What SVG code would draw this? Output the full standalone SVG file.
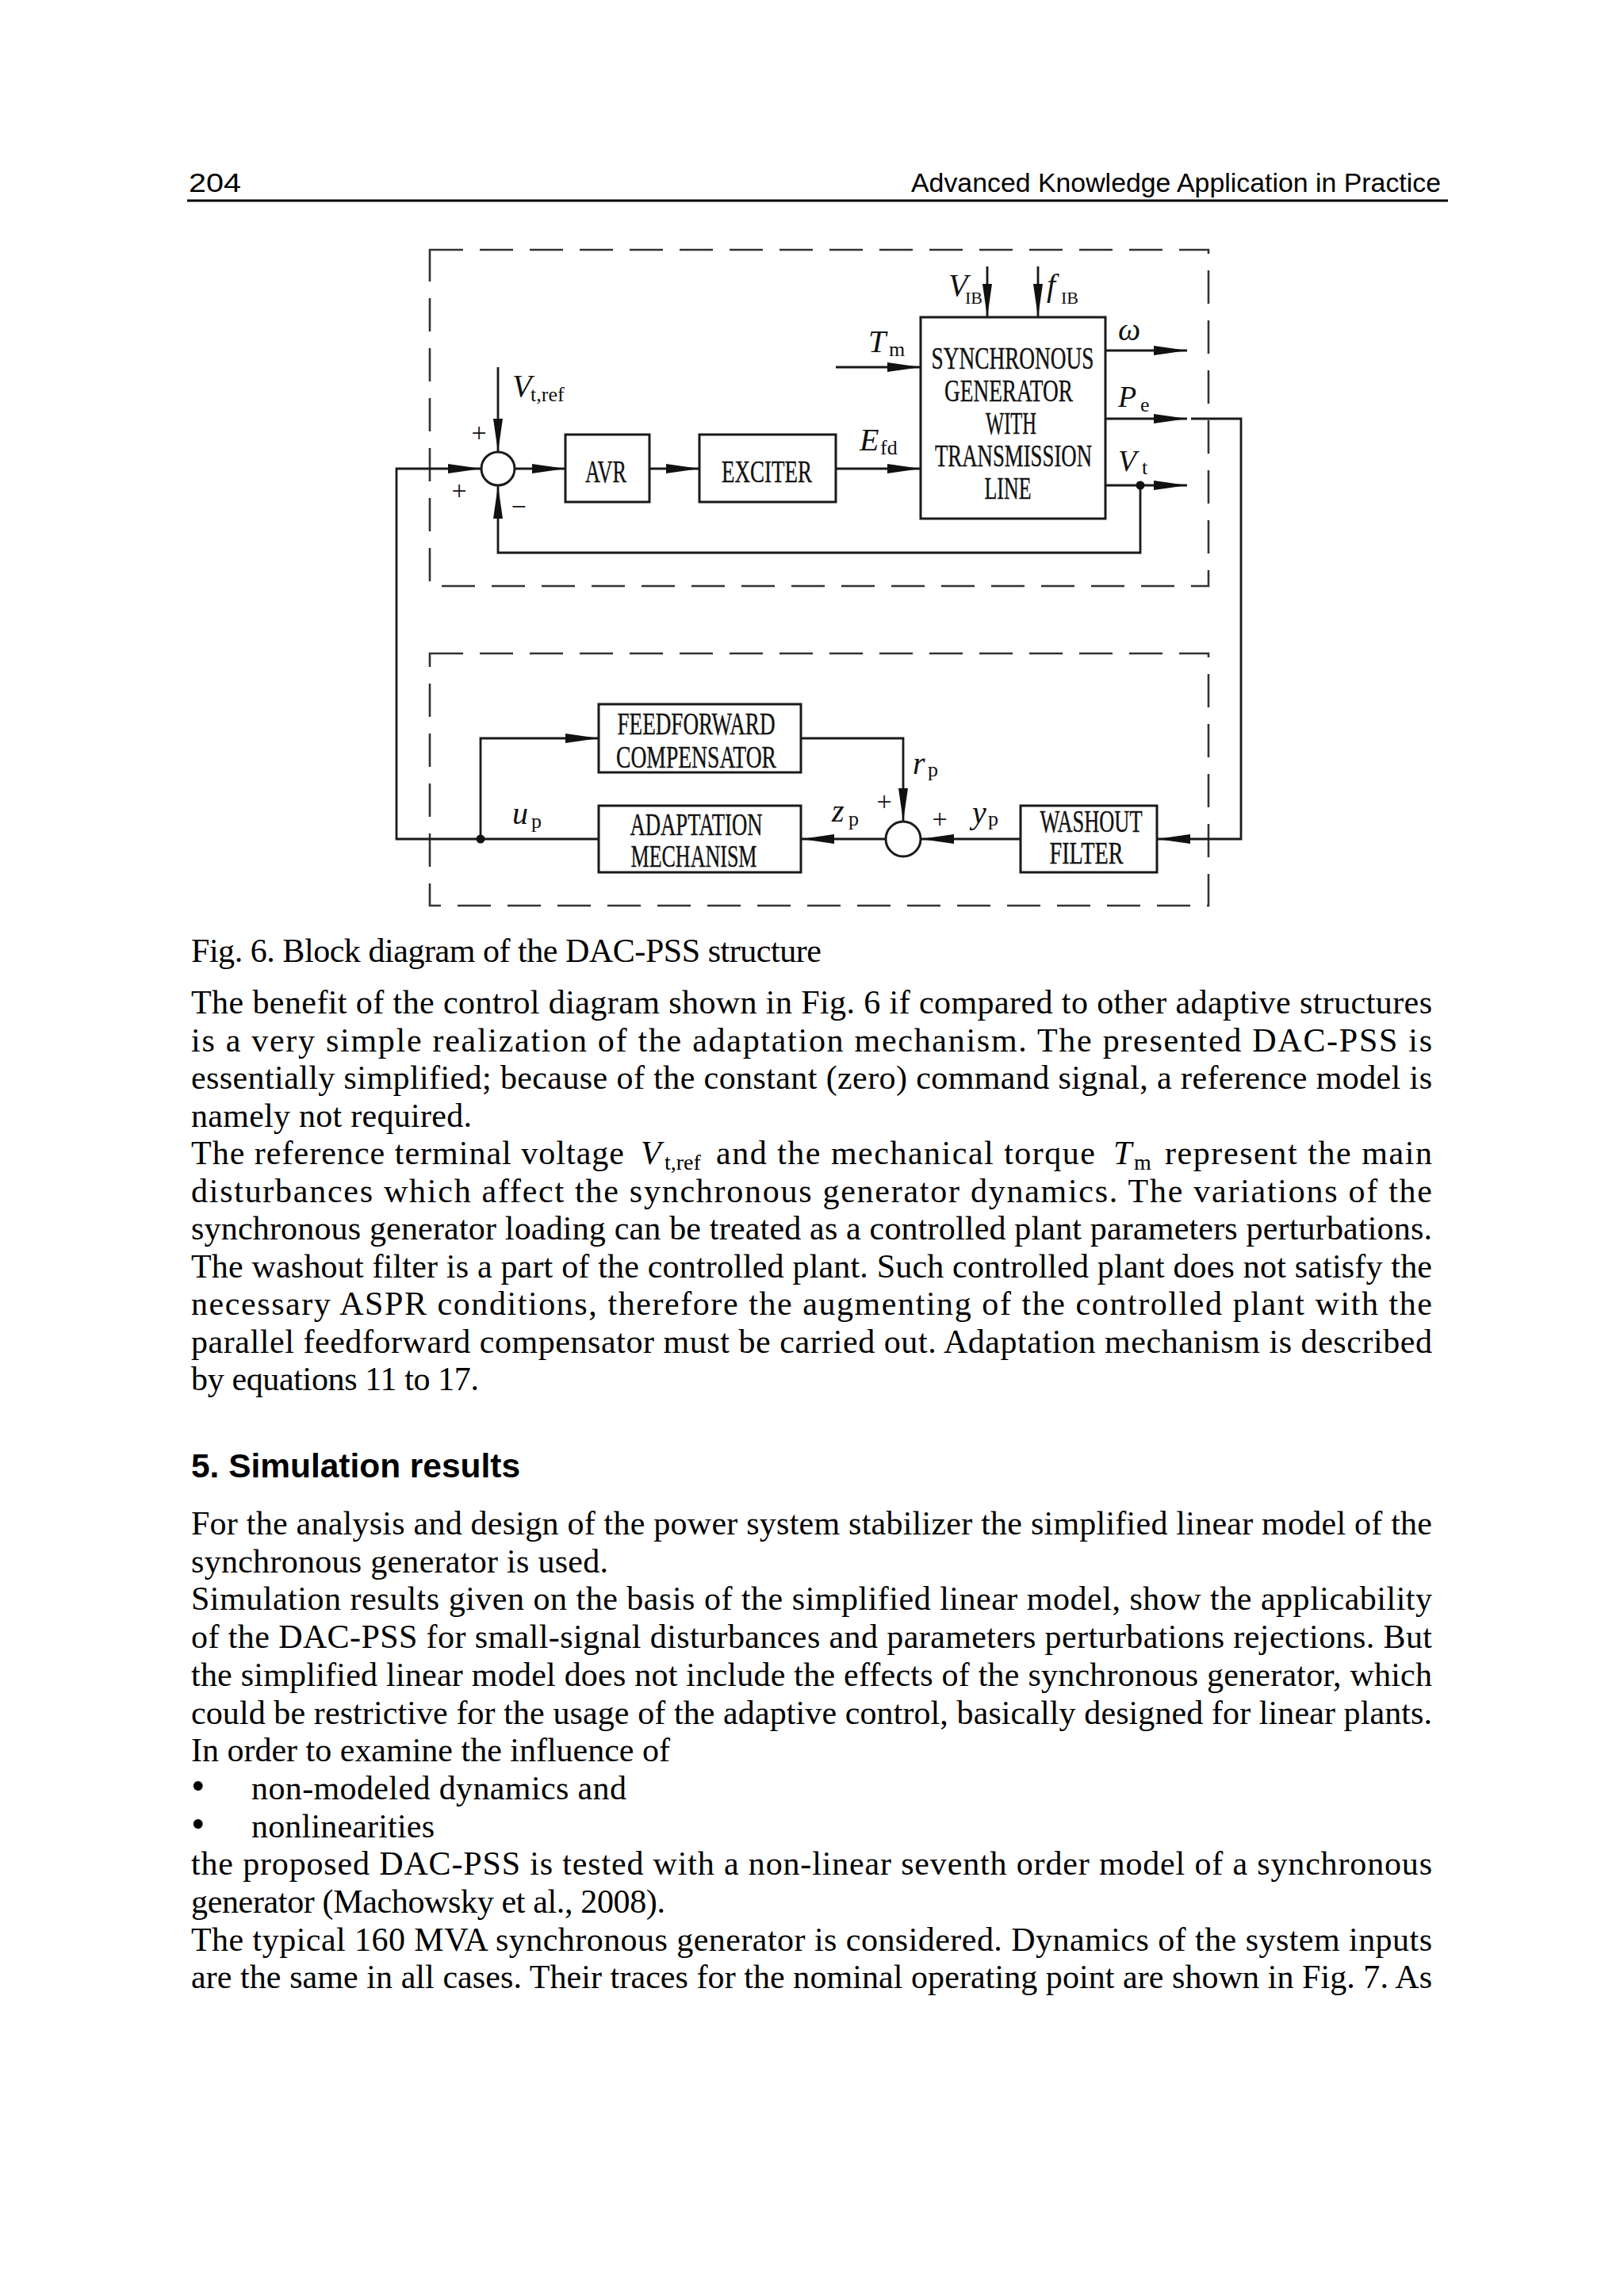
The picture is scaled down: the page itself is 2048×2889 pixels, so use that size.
<svg xmlns="http://www.w3.org/2000/svg" width="2048" height="2889" viewBox="0 0 2048 2889">
<style>
.ln{stroke:#1a1a1a;stroke-width:2.8;fill:none}
.box{stroke:#1a1a1a;stroke-width:3;fill:#fff}
.dash{stroke:#333;stroke-width:2.6;fill:none;stroke-dasharray:42 21}
.bl{font-family:"Liberation Serif",serif;font-size:40px;text-anchor:middle;fill:#111;stroke:#111;stroke-width:0.4}
.mi{font-family:"Liberation Serif",serif;font-style:italic;font-size:40px;fill:#111}
.s{font-style:normal;font-size:26px}
.sg{font-family:"Liberation Serif",serif;font-size:34px;text-anchor:middle;fill:#111}
.body{font-family:"Liberation Serif",serif;font-size:42px;fill:#000}
.bi{font-style:italic}
.bs{font-size:28px}
.hd{font-family:"Liberation Sans",Arial,sans-serif;font-size:33px;fill:#000}
.h2{font-family:"Liberation Sans",Arial,sans-serif;font-size:42px;font-weight:bold;fill:#000}
</style>
<defs>
<marker id="ah" markerUnits="userSpaceOnUse" markerWidth="44" markerHeight="14" refX="42" refY="7" orient="auto">
<path d="M0,1 L42,7 L0,13 z" fill="#111"/>
</marker>
</defs>
<rect width="2048" height="2889" fill="#fff"/>

<!-- page header -->
<g id="header">
<text class="hd" x="238" y="242" textLength="66" lengthAdjust="spacingAndGlyphs">204</text>
<text class="hd" x="1149" y="242" textLength="668" lengthAdjust="spacingAndGlyphs">Advanced Knowledge Application in Practice</text>
<line x1="236" y1="253" x2="1826" y2="253" stroke="#000" stroke-width="3"/>
</g>

<!-- diagram -->
<g id="frames">
<rect class="dash" x="542" y="315" width="982" height="424"/>
<rect class="dash" x="542" y="824" width="982" height="318"/>
</g>

<g id="connectors">
<path class="ln" d="M628,463 L628,570" marker-end="url(#ah)"/>
<path class="ln" d="M755,1058 L500,1058 L500,591 L607,591" marker-end="url(#ah)"/>
<path class="ln" d="M606,1058 L606,931 L755,931" marker-end="url(#ah)"/>
<path class="ln" d="M649,591 L713,591" marker-end="url(#ah)"/>
<path class="ln" d="M819,591 L882,591" marker-end="url(#ah)"/>
<path class="ln" d="M1054,591 L1161,591" marker-end="url(#ah)"/>
<path class="ln" d="M1054,463 L1161,463" marker-end="url(#ah)"/>
<path class="ln" d="M1245,336 L1245,400" marker-end="url(#ah)"/>
<path class="ln" d="M1309,336 L1309,400" marker-end="url(#ah)"/>
<path class="ln" d="M1394,442 L1497,442" marker-end="url(#ah)"/>
<path class="ln" d="M1394,528 L1497,528" marker-end="url(#ah)"/>
<path class="ln" d="M1502,528 L1565,528 L1565,1058 L1459,1058" marker-end="url(#ah)"/>
<path class="ln" d="M1394,612 L1497,612" marker-end="url(#ah)"/>
<path class="ln" d="M1438,612 L1438,697 L628,697 L628,612" marker-end="url(#ah)"/>
<path class="ln" d="M1010,931 L1139,931 L1139,1036" marker-end="url(#ah)"/>
<path class="ln" d="M1287,1058 L1161,1058" marker-end="url(#ah)"/>
<path class="ln" d="M1117,1058 L1010,1058" marker-end="url(#ah)"/>
<circle cx="606" cy="1058" r="5.5" fill="#111"/>
<circle cx="1438" cy="612" r="5.5" fill="#111"/>
</g>

<g id="sum1">
<circle cx="628" cy="591" r="21" class="box"/>
<text class="sg" x="604" y="557">+</text>
<text class="sg" x="579" y="630">+</text>
<text class="sg" x="654" y="650">−</text>
</g>
<g id="avr">
<rect class="box" x="713" y="548" width="106" height="85"/>
<text class="bl" x="764" y="608" textLength="52" lengthAdjust="spacingAndGlyphs">AVR</text>
</g>
<g id="exciter">
<rect class="box" x="882" y="548" width="172" height="85"/>
<text class="bl" x="967" y="608" textLength="114" lengthAdjust="spacingAndGlyphs">EXCITER</text>
</g>
<g id="generator">
<rect class="box" x="1161" y="400" width="233" height="254"/>
<text class="bl" x="1277" y="465" textLength="205" lengthAdjust="spacingAndGlyphs">SYNCHRONOUS</text>
<text class="bl" x="1272" y="506" textLength="162" lengthAdjust="spacingAndGlyphs">GENERATOR</text>
<text class="bl" x="1275" y="547" textLength="64" lengthAdjust="spacingAndGlyphs">WITH</text>
<text class="bl" x="1278" y="588" textLength="198" lengthAdjust="spacingAndGlyphs">TRANSMISSION</text>
<text class="bl" x="1271" y="629" textLength="59" lengthAdjust="spacingAndGlyphs">LINE</text>
</g>
<g id="feedforward">
<rect class="box" x="755" y="888" width="255" height="86"/>
<text class="bl" x="878" y="926" textLength="199" lengthAdjust="spacingAndGlyphs">FEEDFORWARD</text>
<text class="bl" x="878" y="968" textLength="202" lengthAdjust="spacingAndGlyphs">COMPENSATOR</text>
</g>
<g id="adaptation">
<rect class="box" x="755" y="1016" width="255" height="84"/>
<text class="bl" x="878" y="1053" textLength="167" lengthAdjust="spacingAndGlyphs">ADAPTATION</text>
<text class="bl" x="875" y="1093" textLength="159" lengthAdjust="spacingAndGlyphs">MECHANISM</text>
</g>
<g id="sum2">
<circle cx="1139" cy="1058" r="22" class="box"/>
<text class="sg" x="1115" y="1022">+</text>
<text class="sg" x="1185" y="1044">+</text>
</g>
<g id="washout">
<rect class="box" x="1287" y="1016" width="172" height="84"/>
<text class="bl" x="1376" y="1049" textLength="129" lengthAdjust="spacingAndGlyphs">WASHOUT</text>
<text class="bl" x="1370" y="1089" textLength="93" lengthAdjust="spacingAndGlyphs">FILTER</text>
</g>

<g id="signal-labels">
<text class="mi" x="646" y="500">V<tspan class="s" x="669" dy="6">t,ref</tspan></text>
<text class="mi" x="1095" y="444">T<tspan class="s" x="1121" dy="5">m</tspan></text>
<text class="mi" x="1084" y="568">E<tspan class="s" x="1110" dy="5">fd</tspan></text>
<text class="mi" x="1196" y="373">V<tspan class="s" x="1217" dy="10" style="font-size:22px">IB</tspan></text>
<text class="mi" x="1320" y="373">f<tspan class="s" x="1338" dy="10" style="font-size:22px">IB</tspan></text>
<text class="mi" x="1410" y="429">ω</text>
<text class="mi" x="1410" y="513" style="font-size:38px">P<tspan class="s" x="1438" dy="6">e</tspan></text>
<text class="mi" x="1410" y="594" style="font-size:38px">V<tspan class="s" x="1440" dy="4">t</tspan></text>
<text class="mi" x="646" y="1039">u<tspan class="s" x="670" dy="5">p</tspan></text>
<text class="mi" x="1049" y="1036">z<tspan class="s" x="1070" dy="5">p</tspan></text>
<text class="mi" x="1151" y="976">r<tspan class="s" x="1170" dy="3">p</tspan></text>
<text class="mi" x="1226" y="1038">y<tspan class="s" x="1246" dy="3">p</tspan></text>
</g>

<!-- body text -->
<g id="text">
<text class="body" x="241" y="1213" textLength="795" lengthAdjust="spacing">Fig. 6. Block diagram of the DAC-PSS structure</text>
<text class="body" x="241" y="1278" textLength="1565" lengthAdjust="spacing">The benefit of the control diagram shown in Fig. 6 if compared to other adaptive structures</text>
<text class="body" x="241" y="1325.5" textLength="1565" lengthAdjust="spacing">is a very simple realization of the adaptation mechanism. The presented DAC-PSS is</text>
<text class="body" x="241" y="1373" textLength="1565" lengthAdjust="spacing">essentially simplified; because of the constant (zero) command signal, a reference model is</text>
<text class="body" x="241" y="1420.5" textLength="354" lengthAdjust="spacing">namely not required.</text>
<text class="body" x="241" y="1468" textLength="546" lengthAdjust="spacing">The reference terminal voltage</text>
<text class="body" x="808" y="1468"><tspan class="bi">V</tspan><tspan class="bs" x="838" dy="7">t,ref</tspan></text>
<text class="body" x="903" y="1468" textLength="478" lengthAdjust="spacing">and the mechanical torque</text>
<text class="body" x="1404" y="1468"><tspan class="bi">T</tspan><tspan class="bs" x="1430" dy="7">m</tspan></text>
<text class="body" x="1469" y="1468" textLength="337" lengthAdjust="spacing">represent the main</text>
<text class="body" x="241" y="1515.5" textLength="1565" lengthAdjust="spacing">disturbances which affect the synchronous generator dynamics. The variations of the</text>
<text class="body" x="241" y="1563" textLength="1565" lengthAdjust="spacing">synchronous generator loading can be treated as a controlled plant parameters perturbations.</text>
<text class="body" x="241" y="1610.5" textLength="1565" lengthAdjust="spacing">The washout filter is a part of the controlled plant. Such controlled plant does not satisfy the</text>
<text class="body" x="241" y="1658" textLength="1565" lengthAdjust="spacing">necessary ASPR conditions, therefore the augmenting of the controlled plant with the</text>
<text class="body" x="241" y="1705.5" textLength="1565" lengthAdjust="spacing">parallel feedforward compensator must be carried out. Adaptation mechanism is described</text>
<text class="body" x="241" y="1753" textLength="363" lengthAdjust="spacing">by equations 11 to 17.</text>

<text class="h2" x="241" y="1863" textLength="415" lengthAdjust="spacingAndGlyphs">5. Simulation results</text>

<text class="body" x="241" y="1935" textLength="1565" lengthAdjust="spacing">For the analysis and design of the power system stabilizer the simplified linear model of the</text>
<text class="body" x="241" y="1982.7" textLength="526" lengthAdjust="spacing">synchronous generator is used.</text>
<text class="body" x="241" y="2030.4" textLength="1565" lengthAdjust="spacing">Simulation results given on the basis of the simplified linear model, show the applicability</text>
<text class="body" x="241" y="2078.1" textLength="1565" lengthAdjust="spacing">of the DAC-PSS for small-signal disturbances and parameters perturbations rejections. But</text>
<text class="body" x="241" y="2125.8" textLength="1565" lengthAdjust="spacing">the simplified linear model does not include the effects of the synchronous generator, which</text>
<text class="body" x="241" y="2173.5" textLength="1565" lengthAdjust="spacing">could be restrictive for the usage of the adaptive control, basically designed for linear plants.</text>
<text class="body" x="241" y="2221.2" textLength="604" lengthAdjust="spacing">In order to examine the influence of</text>
<text class="body" x="241" y="2268.9" style="font-size:50px">•</text>
<text class="body" x="317" y="2268.9" textLength="473" lengthAdjust="spacing">non-modeled dynamics and</text>
<text class="body" x="241" y="2316.6" style="font-size:50px">•</text>
<text class="body" x="317" y="2316.6" textLength="231" lengthAdjust="spacing">nonlinearities</text>
<text class="body" x="241" y="2364.3" textLength="1565" lengthAdjust="spacing">the proposed DAC-PSS is tested with a non-linear seventh order model of a synchronous</text>
<text class="body" x="241" y="2412" textLength="598" lengthAdjust="spacing">generator (Machowsky et al., 2008).</text>
<text class="body" x="241" y="2459.7" textLength="1565" lengthAdjust="spacing">The typical 160 MVA synchronous generator is considered. Dynamics of the system inputs</text>
<text class="body" x="241" y="2507.4" textLength="1565" lengthAdjust="spacing">are the same in all cases. Their traces for the nominal operating point are shown in Fig. 7. As</text>
</g>
</svg>
